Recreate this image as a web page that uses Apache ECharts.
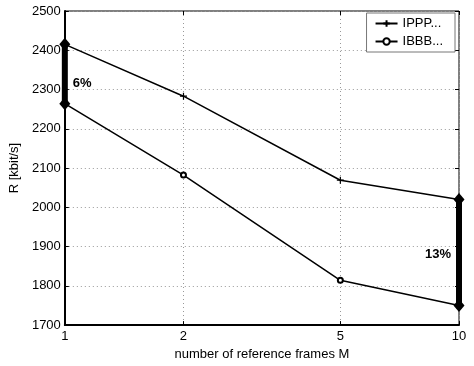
<!DOCTYPE html>
<html>
<head>
<meta charset="utf-8">
<script src="https://cdn.jsdelivr.net/npm/echarts@6/dist/echarts.min.js"></script>
<style>
  html, body { margin: 0; padding: 0; background: #fff; }
  #chart { width: 474px; height: 366px; }
</style>
</head>
<body>
<div id="chart"></div>
<script>
// reference frames on a log axis
const frames = [1, 2, 5, 10];
const ipppRate = [2415, 2283, 2069, 2020];
const ibbbRate = [2264, 2082, 1814, 1750];

// gain bars between the two curves
const gainLabels = ['6%', '13%'];
const gainAt = [1, 10];
const gainLabelY = [2316, 1880];

const font = 'Liberation Sans, Arial, Helvetica, sans-serif';

const pairs = (xs, ys) => xs.map((x, i) => [x, ys[i]]);

const chart = echarts.init(document.getElementById('chart'));

const logX = (pos, show) => ({
  type: 'log',
  logBase: 10,
  position: pos,
  min: 1,
  max: 10,
  axisLine: { show: show, lineStyle: { color: '#000', width: 2 } },
  axisTick: { show: true, inside: true, length: 4, customValues: frames, lineStyle: { color: '#000' } },
  axisLabel: {
    show: show, customValues: frames, color: '#000', fontSize: 13, fontFamily: font, margin: 5,
    formatter: v => String(Math.round(v))
  },
  splitLine: { show: show, lineStyle: { color: '#999', type: [1, 3], width: 1 } },
  minorTick: { show: false },
  name: show ? 'number of reference frames M' : '',
  nameLocation: 'middle',
  nameGap: 21,
  nameTextStyle: { color: '#000', fontSize: 13, fontFamily: font }
});

const valY = (pos, show) => ({
  type: 'value',
  position: pos,
  min: 1700,
  max: 2500,
  interval: 100,
  axisLine: { show: show, lineStyle: { color: '#000', width: 2 } },
  axisTick: { show: true, inside: true, length: 4, lineStyle: { color: '#000' } },
  axisLabel: { show: show, color: '#000', fontSize: 13, fontFamily: font, margin: 4, formatter: v => String(v) },
  splitLine: { show: show, lineStyle: { color: '#999', type: [1, 3], width: 1 } },
  name: show ? 'R [kbit/s]' : '',
  nameLocation: 'middle',
  nameGap: 37,
  nameRotate: 90,
  nameTextStyle: { color: '#000', fontSize: 13, fontFamily: font }
});

const gainSeries = gainAt.map((x, i) => ({
  type: 'line',
  name: 'gain' + i,
  data: [[x, ibbbRate[frames.indexOf(x)]], [x, ipppRate[frames.indexOf(x)]]],
  symbol: 'diamond',
  symbolSize: [11, 13],
  lineStyle: { color: '#000', width: 6 },
  itemStyle: { color: '#000' },
  z: 5,
  silent: true
}));

const gainText = {
  type: 'scatter',
  name: 'gainText',
  symbolSize: 0,
  itemStyle: { opacity: 1 },
  data: gainAt.map((x, i) => ({
    value: [x, gainLabelY[i]],
    label: {
      show: true,
      position: i === 0 ? 'right' : 'left',
      distance: 8,
      formatter: gainLabels[i],
      color: '#000',
      opacity: 1,
      fontSize: 13,
      fontWeight: 'bold',
      fontFamily: font
    }
  })),
  silent: true
};

chart.setOption({
  animation: false,
  backgroundColor: '#fff',
  grid: {
    left: 50, right: 15, top: 11, bottom: 33,
    show: true, borderColor: '#000', borderWidth: 1, backgroundColor: '#fff'
  },
  legend: {
    data: ['IPPP...', 'IBBB...'],
    orient: 'vertical',
    right: 19,
    top: 13,
    itemWidth: 22,
    itemHeight: 8,
    itemGap: 5,
    padding: [4, 12, 4, 8],
    backgroundColor: '#fff',
    borderColor: '#777',
    borderWidth: 1,
    borderRadius: 0,
    textStyle: { color: '#000', fontSize: 13, fontFamily: font }
  },
  xAxis: [logX('bottom', true), logX('top', false)],
  yAxis: [valY('left', true), valY('right', false)],
  series: [
    {
      type: 'line',
      name: 'IPPP...',
      data: pairs(frames, ipppRate),
      symbol: 'path://M0,5L10,5M5,0L5,10',
      symbolSize: 7,
      showAllSymbol: true,
      lineStyle: { color: '#000', width: 1.5 },
      itemStyle: { color: '#000', borderColor: '#000', borderWidth: 1.2 }
    },
    {
      type: 'line',
      name: 'IBBB...',
      data: pairs(frames, ibbbRate),
      symbol: 'emptyCircle',
      symbolSize: 5,
      lineStyle: { color: '#000', width: 1.5 },
      itemStyle: { color: '#000', borderColor: '#000', borderWidth: 1.5 }
    },
    ...gainSeries,
    gainText
  ]
});
</script>
</body>
</html>
